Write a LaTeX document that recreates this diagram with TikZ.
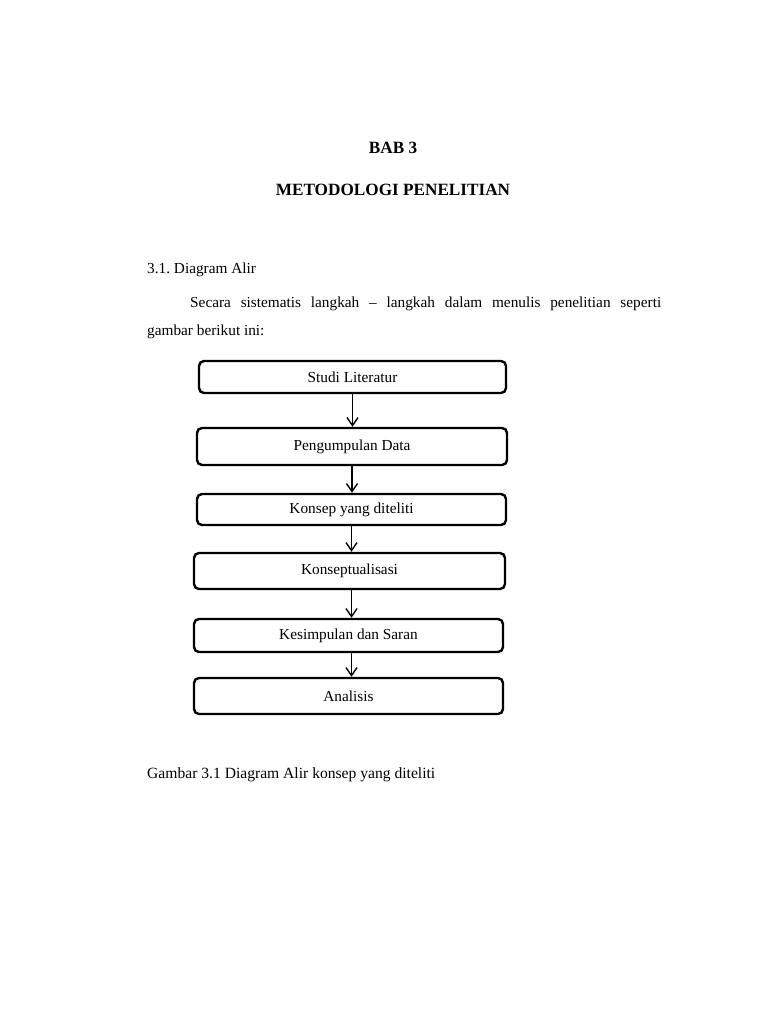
\documentclass[tikz,border=0pt]{standalone}
\usepackage{fontspec}
\setmainfont{Liberation Serif}
\usetikzlibrary{arrows.meta}
\frenchspacing
\tikzset{
  langkah/.style={draw,line width=2.4pt,rounded corners=5pt,inner sep=0pt,
    font=\fontsize{15.3}{18}\selectfont},
  alir/.style={line width=1.4pt,-{Straight Barb[length=8pt,width=11pt,line width=1.4pt]}},
  teks/.style={inner sep=0pt,font=\fontsize{15.3}{18}\selectfont},
  judul/.style={inner sep=0pt,font=\fontsize{17.2}{20}\selectfont\bfseries}
}
\begin{document}
\begin{tikzpicture}[x=1pt,y=-1pt]
	\useasboundingbox[fill=white] (0,0) rectangle (768,1024);
	% judul bab
	\node [judul] (bab) at (393,148) {BAB 3};
	\node [judul] (metode) at (393,190) {METODOLOGI PENELITIAN};
	% sub bab dan paragraf
	\node [teks,anchor=base west] (sub) at (147,273) {3.1. Diagram Alir};
	\node [teks,anchor=base west] (par1) at (190,307)
	  {\makebox[471pt][s]{Secara sistematis langkah -- langkah dalam menulis penelitian seperti}};
	\node [teks,anchor=base west] (par2) at (147,335) {gambar berikut ini:};
	% kotak-kotak diagram alir
	\node [langkah,minimum width=307pt,minimum height=32pt] (lit) at (352.5,377) {Studi Literatur};
	\node [langkah,minimum width=310pt,minimum height=37pt] (data) at (352,446.5) {Pengumpulan Data};
	\node [langkah,minimum width=309pt,minimum height=31pt] (konsep) at (351.5,509.5) {Konsep yang diteliti};
	\node [langkah,minimum width=311pt,minimum height=36pt] (ksp) at (349.5,571) {Konseptualisasi};
	\node [langkah,minimum width=309pt,minimum height=33pt] (simpul) at (348.5,635.5) {Kesimpulan dan Saran};
	\node [langkah,minimum width=309pt,minimum height=36pt] (anal) at (348.5,696) {Analisis};
	% panah
	\draw [alir] (lit.south) -- (lit.south |- data.north);
	\draw [alir] (data.south) -- (data.south |- konsep.north);
	\draw [alir] (konsep.south) -- (konsep.south |- ksp.north);
	\draw [alir] (ksp.south -| konsep.south) -- (konsep.south |- simpul.north);
	\draw [alir] (simpul.south -| konsep.south) -- (konsep.south |- anal.north);
	% keterangan gambar
	\node [teks,anchor=base west,font=\fontsize{15.6}{18}\selectfont] (ket) at (147,778) {Gambar 3.1 Diagram Alir konsep yang diteliti};
\end{tikzpicture}
\end{document}
